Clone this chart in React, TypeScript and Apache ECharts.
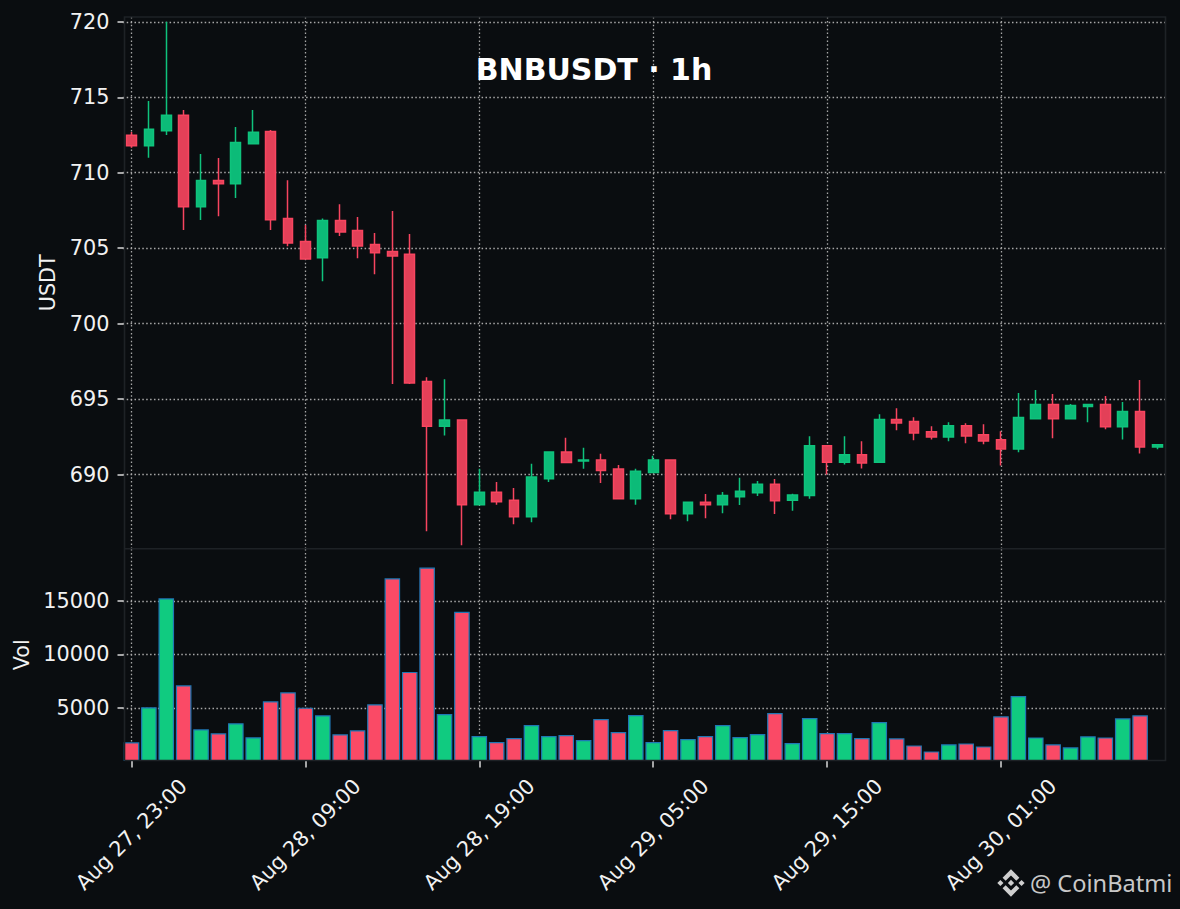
import React, { useEffect, useRef } from "react";
import * as echarts from "echarts";

const categories = [
  "Aug 27, 23:00","Aug 28, 00:00","Aug 28, 01:00","Aug 28, 02:00","Aug 28, 03:00","Aug 28, 04:00","Aug 28, 05:00","Aug 28, 06:00","Aug 28, 07:00","Aug 28, 08:00",
  "Aug 28, 09:00","Aug 28, 10:00","Aug 28, 11:00","Aug 28, 12:00","Aug 28, 13:00","Aug 28, 14:00","Aug 28, 15:00","Aug 28, 16:00","Aug 28, 17:00","Aug 28, 18:00",
  "Aug 28, 19:00","Aug 28, 20:00","Aug 28, 21:00","Aug 28, 22:00","Aug 28, 23:00","Aug 29, 00:00","Aug 29, 01:00","Aug 29, 02:00","Aug 29, 03:00","Aug 29, 04:00",
  "Aug 29, 05:00","Aug 29, 06:00","Aug 29, 07:00","Aug 29, 08:00","Aug 29, 09:00","Aug 29, 10:00","Aug 29, 11:00","Aug 29, 12:00","Aug 29, 13:00","Aug 29, 14:00",
  "Aug 29, 15:00","Aug 29, 16:00","Aug 29, 17:00","Aug 29, 18:00","Aug 29, 19:00","Aug 29, 20:00","Aug 29, 21:00","Aug 29, 22:00","Aug 29, 23:00","Aug 30, 00:00",
  "Aug 30, 01:00","Aug 30, 02:00","Aug 30, 03:00","Aug 30, 04:00","Aug 30, 05:00","Aug 30, 06:00","Aug 30, 07:00","Aug 30, 08:00","Aug 30, 09:00","Aug 30, 10:00",
];
const opens = [712.48,711.79,712.79,713.81,707.74,709.49,709.27,711.92,712.74,706.97,705.44,704.36,706.84,706.17,705.24,704.78,704.6,696.16,693.2,693.62,688.0,688.82,688.29,687.2,689.73,691.49,690.9,690.96,690.36,688.4,690.13,690.96,687.4,688.16,688.0,688.53,688.8,689.36,688.29,688.62,691.91,690.82,691.31,690.82,693.64,693.51,692.84,692.49,693.24,692.64,692.31,691.69,693.69,694.64,693.69,694.51,694.64,693.16,694.18,691.82];
const closes = [711.79,712.88,713.81,707.74,709.49,709.27,712.01,712.68,706.88,705.35,704.29,706.84,706.08,705.15,704.69,704.49,696.07,693.2,693.62,688.0,688.82,688.2,687.2,689.84,691.49,690.8,690.96,690.27,688.4,690.22,690.96,687.4,688.16,688.0,688.62,688.89,689.36,688.27,688.64,691.91,690.82,691.31,690.76,693.64,693.42,692.76,692.49,693.24,692.56,692.22,691.69,693.78,694.64,693.69,694.58,694.64,693.16,694.18,691.82,691.98];
const lows = [711.66,711.0,712.5,706.2,706.86,707.12,708.32,711.92,706.2,705.13,704.29,702.81,705.8,704.34,703.27,696.0,696.0,686.24,692.58,685.31,688.0,688.0,686.71,686.84,689.51,690.8,690.38,689.44,688.4,688.0,690.13,687.04,686.91,687.11,687.44,687.98,688.58,687.38,687.6,688.4,690.0,690.67,690.4,690.82,692.93,692.27,692.33,692.2,692.07,692.0,690.6,691.47,693.69,692.4,693.69,693.47,693.0,692.33,691.4,691.67];
const highs = [712.7,714.76,720.0,714.16,711.24,710.97,713.03,714.16,712.83,709.51,706.53,706.97,707.92,707.06,706.0,707.46,705.94,696.44,696.31,693.62,690.38,689.51,689.11,690.71,691.49,692.44,691.78,691.38,690.64,690.38,691.24,690.96,688.16,688.71,688.84,689.78,689.58,689.71,688.73,692.53,691.96,692.53,692.2,694.0,694.4,693.8,693.2,693.47,693.4,693.33,692.87,695.4,695.6,695.33,694.67,694.64,695.2,694.8,696.27,691.98];
const volumes = [1790,5060,15250,7120,3000,2630,3570,2260,5620,6460,5030,4310,2540,2910,5340,17120,8370,18120,4440,14000,2380,1810,2190,3400,2380,2470,2000,3970,2750,4340,1810,2940,2100,2380,3400,2280,2560,4530,1720,4060,2660,2660,2190,3690,2160,1500,940,1600,1690,1410,4220,6120,2250,1600,1320,2350,2250,4030,4310,130];
const priceTicks = [690, 695, 700, 705, 710, 715, 720];
const volumeTicks = [5000, 10000, 15000];
const titleText = "BNBUSDT \u00b7 1h";
const watermarkText = "@ CoinBatmi";
const xTickEvery = 10;

const LOGO_D =
  "M38.73 53.2l24.59-24.58 24.6 24.6 14.3-14.31L63.32 0 24.42 38.9zM0 63.31l14.3-14.31 14.31 14.31-14.31 14.3zM38.73 73.41l24.59 24.59 24.6-24.6 14.31 14.29-38.9 38.91-38.91-38.88-.02-.02zM98.01 63.31l14.3-14.31 14.31 14.31-14.31 14.3zM77.83 63.3L63.32 48.78 52.59 59.51l-1.24 1.23-2.54 2.54 14.51 14.5 14.51-14.47z";
echarts.graphic.registerShape("cbLogo", echarts.graphic.extendPath(LOGO_D, {}));

const FONT = "DejaVu Sans";
const FS = 20.8;
const BG = "#0a0d10";
const UP_FILL = "#0cbb78";
const UP_EDGE = "#0fc37c";
const DOWN_FILL = "#e34058";
const DOWN_EDGE = "#f8455f";
const VOL_UP = "#10cb80";
const VOL_DOWN = "#fa4a66";
const VOL_EDGE = "#1f77b4";
const FRAME = "#1e2226";
const TEXT = "#f2f2f2";
const TICK = "#d8d8d8";
const GRIDLINE = { color: "#a8a8a8", width: 1.3, type: [1.5, 2.4] as number[] };

const LEFT = 122.8;
const WIDTH = 1043.4;
const FRAME_L = 124.5;
const FRAME_R = 1165.5;

export default function App() {
  const ref = useRef<HTMLDivElement>(null);
  useEffect(() => {
    document.body.style.margin = "0";
    document.body.style.background = BG;
    document.body.style.overflow = "hidden";
    const chart = echarts.init(ref.current!, null, { renderer: "svg" });
    const candles = categories.map((_, i) => [opens[i], closes[i], lows[i], highs[i]]);
    const bars = volumes.map((v, i) => ({
      value: v,
      itemStyle: { color: closes[i] >= opens[i] ? VOL_UP : VOL_DOWN },
    }));
    const xInterval = (i: number) => i % xTickEvery === 0;
    const sharedX = {
      type: "category",
      data: categories,
      boundaryGap: true,
      axisLine: { show: false },
      splitLine: { show: true, interval: xInterval, alignWithLabel: true, lineStyle: GRIDLINE },
    };
    const yBase = {
      type: "value",
      position: "left",
      offset: -(FRAME_L - LEFT),
      scale: true,
      nameLocation: "middle",
      axisLine: { show: false },
      splitLine: { show: true, lineStyle: GRIDLINE },
    };
    chart.setOption({
      animation: false,
      backgroundColor: BG,
      textStyle: { fontFamily: FONT },
      title: {
        text: titleText,
        left: 589,
        top: 49.5,
        textAlign: "center",
        textStyle: { color: "#ffffff", fontFamily: FONT, fontSize: 30, fontWeight: "bold" },
      },
      grid: [
        { left: LEFT, width: WIDTH, top: 17, height: 531.5, outerBoundsMode: "none" },
        { left: LEFT, width: WIDTH, top: 549, height: 211.5, outerBoundsMode: "none" },
      ],
      xAxis: [
        {
          ...sharedX,
          gridIndex: 0,
          axisTick: { show: false },
          axisLabel: { show: false },
        },
        {
          ...sharedX,
          gridIndex: 1,
          axisTick: { show: true, interval: xInterval, alignWithLabel: true, length: 7, lineStyle: { color: TICK, width: 1.5 } },
          axisLabel: {
            show: true,
            interval: xInterval,
            rotate: 45,
            align: "center",
            verticalAlign: "middle",
            margin: 74,
            color: TEXT,
            fontFamily: FONT,
            fontSize: FS,
          },
        },
      ],
      yAxis: [
        {
          ...yBase,
          gridIndex: 0,
          min: 685.1,
          max: 720.32,
          name: "USDT",
          nameGap: 62,
          nameTextStyle: { color: TEXT, fontFamily: FONT, fontSize: FS },
          axisTick: { show: true, customValues: priceTicks, length: 7, lineStyle: { color: TICK, width: 1.5 } },
          axisLabel: { customValues: priceTicks, color: TEXT, fontFamily: FONT, fontSize: FS, margin: 15, padding: [2, 0, 0, 0] },
        },
        {
          ...yBase,
          gridIndex: 1,
          min: 90,
          max: 19860,
          name: "Vol",
          nameGap: 89,
          nameTextStyle: { color: TEXT, fontFamily: FONT, fontSize: FS },
          axisTick: { show: true, customValues: volumeTicks, length: 7, lineStyle: { color: TICK, width: 1.5 } },
          axisLabel: {
            customValues: volumeTicks,
            formatter: (v: number) => String(v),
            color: TEXT,
            fontFamily: FONT,
            fontSize: FS,
            margin: 15,
            padding: [2, 0, 0, 0],
          },
        },
      ],
      series: [
        {
          type: "candlestick",
          xAxisIndex: 0,
          yAxisIndex: 0,
          barWidth: 10.2,
          data: candles,
          itemStyle: {
            color: UP_FILL,
            color0: DOWN_FILL,
            borderColor: UP_EDGE,
            borderColor0: DOWN_EDGE,
            borderWidth: 1.5,
          },
        },
        {
          type: "bar",
          xAxisIndex: 1,
          yAxisIndex: 1,
          barWidth: 15.6,
          data: bars,
          itemStyle: { borderColor: VOL_EDGE, borderWidth: 1.2 },
        },
      ],
      graphic: [
        {
          type: "polyline",
          silent: true,
          z: 5,
          shape: {
            points: [
              [FRAME_L, 760.5],
              [FRAME_L, 17],
              [FRAME_R, 17],
              [FRAME_R, 760.5],
              [FRAME_L, 760.5],
            ],
          },
          style: { stroke: FRAME, lineWidth: 1.6, fill: "none" },
        },
        {
          type: "line",
          silent: true,
          z: 5,
          shape: { x1: FRAME_L, y1: 548.7, x2: FRAME_R, y2: 548.7 },
          style: { stroke: FRAME, lineWidth: 1.6 },
        },
        {
          type: "cbLogo",
          silent: true,
          z: 6,
          x: 997.3,
          y: 869.3,
          scaleX: 0.2164,
          scaleY: 0.2164,
          style: { fill: "#cfcfcf" },
        },
        {
          type: "text",
          silent: true,
          z: 6,
          x: 1030,
          y: 883,
          style: {
            text: watermarkText,
            fill: "#c8c8c8",
            font: "23.6px 'Noto Sans'",
            textAlign: "left",
            textVerticalAlign: "middle",
          },
        },
      ],
    });
    return () => chart.dispose();
  }, []);
  return <div ref={ref} style={{ width: 1180, height: 909 }} />;
}
